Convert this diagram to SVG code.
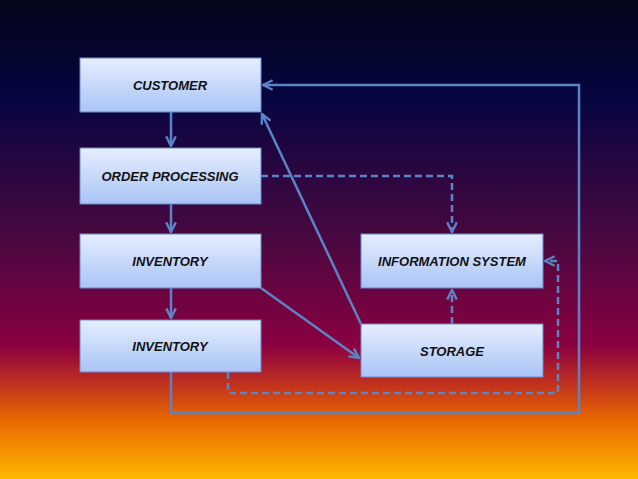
<svg xmlns="http://www.w3.org/2000/svg" width="638" height="479" viewBox="0 0 638 479">
<defs>
<linearGradient id="bg" x1="0" y1="0" x2="0" y2="1">
<stop offset="0" stop-color="#05051a"/>
<stop offset="0.2" stop-color="#050540"/>
<stop offset="0.5" stop-color="#4a0840"/>
<stop offset="0.72" stop-color="#8a0040"/>
<stop offset="0.8" stop-color="#c03020"/>
<stop offset="0.88" stop-color="#ea6a00"/>
<stop offset="1" stop-color="#ffb800"/>
</linearGradient>
<linearGradient id="box" x1="0" y1="0" x2="0" y2="1">
<stop offset="0" stop-color="#e6eeff"/>
<stop offset="1" stop-color="#a9c4f5"/>
</linearGradient>
<marker id="ah" viewBox="0 0 10 10" refX="9" refY="5" markerWidth="5" markerHeight="5" orient="auto" markerUnits="userSpaceOnUse" style="overflow:visible">
<path d="M1,0 L9,5 L1,10" fill="none" stroke="#5b84c4" stroke-width="2.5"/>
</marker>
<marker id="a" viewBox="0 0 10 10" refX="9" refY="5" markerWidth="12" markerHeight="12" orient="auto" markerUnits="userSpaceOnUse">
<path d="M1,1 L9,5 L1,9" fill="none" stroke="#5b84c4" stroke-width="2"/>
</marker>
</defs>
<style>
.b{fill:url(#box);stroke:#6b8cc8;stroke-width:1}
.t{font-family:"Liberation Sans",Arial,sans-serif;font-weight:bold;font-style:italic;font-size:13px;fill:#111;text-anchor:middle}
.c{fill:none;stroke:#5b84c4;stroke-width:2.5}
.d{stroke-dasharray:7,4}
</style>
<rect width="638" height="479" fill="url(#bg)"/>
<g id="customer"><rect class="b" x="80" y="58" width="181" height="54"/><text class="t" x="170" y="90">CUSTOMER</text></g>
<g id="order"><rect class="b" x="80" y="148" width="181" height="56"/><text class="t" x="170" y="181">ORDER PROCESSING</text></g>
<g id="inventory1"><rect class="b" x="80" y="234" width="181" height="54"/><text class="t" x="170" y="266">INVENTORY</text></g>
<g id="inventory2"><rect class="b" x="80" y="320" width="181" height="52"/><text class="t" x="170" y="351">INVENTORY</text></g>
<g id="infosys"><rect class="b" x="361" y="234" width="182" height="54"/><text class="t" x="452" y="266">INFORMATION SYSTEM</text></g>
<g id="storage"><rect class="b" x="361" y="324" width="182" height="53"/><text class="t" x="452" y="356">STORAGE</text></g>
<g id="connectors">
<path class="c" d="M171,112 V146" marker-end="url(#a)"/>
<path class="c" d="M171,204 V232" marker-end="url(#a)"/>
<path class="c" d="M171,288 V318" marker-end="url(#a)"/>
<path class="c d" d="M261,176 H452 V232" marker-end="url(#a)"/>
<path class="c d" d="M452,324 V290" marker-end="url(#a)"/>
<path class="c d" d="M228,372 V393 H558 V261 H545" marker-end="url(#a)"/>
<path class="c" d="M171,372 V413 H579 V85 H263" marker-end="url(#a)"/>
<path class="c" d="M261,288 L359,358" marker-end="url(#a)"/>
<path class="c" d="M361,324 L262,114" marker-end="url(#a)"/>
</g>
</svg>
